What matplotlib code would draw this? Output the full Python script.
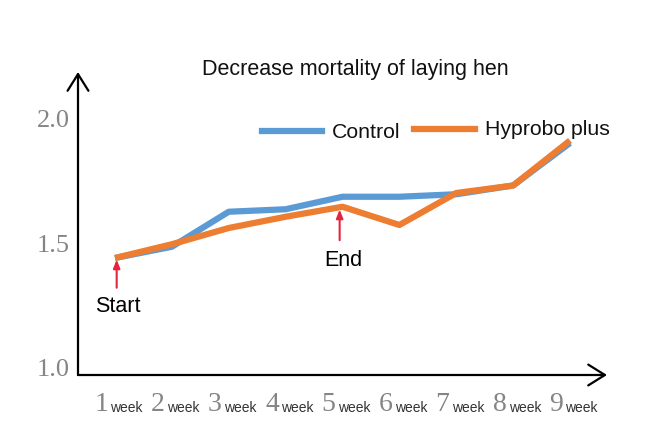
import matplotlib
matplotlib.use("Agg")
import matplotlib.pyplot as plt
from matplotlib.patches import FancyArrowPatch
from matplotlib.transforms import blended_transform_factory

weeks = [1, 2, 3, 4, 5, 6, 7, 8, 9]
week_numbers = ["1", "2", "3", "4", "5", "6", "7", "8", "9"]
control = [1.44, 1.485, 1.625, 1.635, 1.685, 1.685, 1.695, 1.73, 1.90]
hyprobo = [1.44, 1.495, 1.56, 1.605, 1.645, 1.572, 1.70, 1.73, 1.91]
y_ticks = [1.0, 1.5, 2.0]
y_tick_labels = ["1.0", "1.5", "2.0"]

BLUE = "#5b9bd5"
ORANGE = "#ed7d31"
RED = "#e3263f"
GRAY = "#858585"

fig = plt.figure(figsize=(6.5, 4.4), dpi=100)
ax = fig.add_axes([78/650, 65/440, (607-78)/650, (375-72)/440])
ax.set_xlim(0.35, 9.65)
ax.set_ylim(0.972, 2.184)

ax.plot(weeks, control, color=BLUE, lw=4.5, solid_capstyle="butt", label="Control", zorder=3)
ax.plot(weeks, hyprobo, color=ORANGE, lw=4.5, solid_capstyle="butt", label="Hyprobo plus", zorder=4)

for s in ax.spines.values():
    s.set_visible(False)

# arrow axes
for end in [(0, 1), (1, 0)]:
    ax.add_patch(FancyArrowPatch((0, 0), end, transform=ax.transAxes,
                                 arrowstyle="->,head_length=8,head_width=5",
                                 color="black", lw=1.6, clip_on=False,
                                 shrinkA=0, shrinkB=0, mutation_scale=1.5))

ax.set_yticks(y_ticks)
ax.set_yticklabels(y_tick_labels, family="Liberation Serif", fontsize=19, color=GRAY)
ax.tick_params(axis="y", length=0, pad=6)
ax.set_xticks([])

trans = blended_transform_factory(ax.transData, ax.transAxes)
for w, n in zip(weeks, week_numbers):
    ax.text(w - 0.12, -0.055, n, transform=trans, ha="right", va="top",
            family="Liberation Serif", fontsize=20, color=GRAY)
    ax.text(w - 0.08, -0.085, "week", transform=trans, ha="left", va="top",
            family="Liberation Sans", fontsize=10, color="#333333")

fig.text(355/650, 1 - 70/440, "Decrease mortality of laying hen", ha="center", va="center",
         family="Liberation Sans", fontsize=15.5, color="#111111")

# legend drawn manually
fig.add_artist(plt.Line2D([262/650, 322/650], [1-131/440, 1-131/440], color=BLUE, lw=4.5))
fig.text(332/650, 1-133/440, "Control", ha="left", va="center", family="Liberation Sans",
         fontsize=15.3, color="#111111")
fig.add_artist(plt.Line2D([414/650, 475/650], [1-129/440, 1-129/440], color=ORANGE, lw=4.5))
fig.text(485/650, 1-129/440, "Hyprobo plus", ha="left", va="center", family="Liberation Sans",
         fontsize=15.3, color="#111111")

# annotations
ax.annotate("", xy=(1.03, 1.445), xytext=(1.03, 1.31),
            arrowprops=dict(arrowstyle="-|>,head_length=0.5,head_width=0.2", color=RED, lw=1.5))
ax.text(1.05, 1.245, "Start", ha="center", va="center", family="Liberation Sans", fontsize=15.5)
ax.annotate("", xy=(4.95, 1.645), xytext=(4.95, 1.50),
            arrowprops=dict(arrowstyle="-|>,head_length=0.5,head_width=0.2", color=RED, lw=1.5))
ax.text(5.02, 1.43, "End", ha="center", va="center", family="Liberation Sans", fontsize=15.5)

fig.savefig("out.png", dpi=100)
